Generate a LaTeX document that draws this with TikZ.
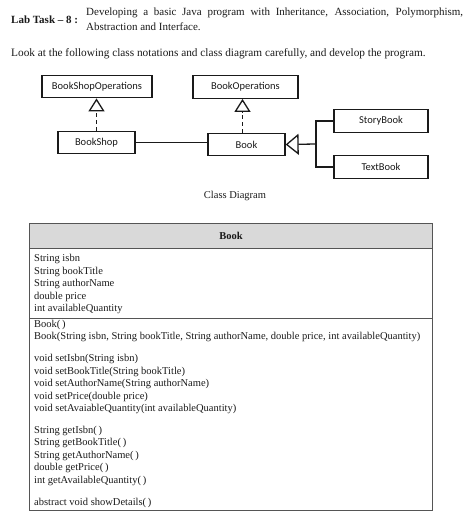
\documentclass[tikz,border=0pt]{standalone}
\usepackage{fontspec}
\setmainfont{Liberation Serif}
\newfontfamily\boxfont{Carlito}
\usetikzlibrary{arrows.meta}
\definecolor{ink}{HTML}{1A1A1A}
\definecolor{headgray}{HTML}{D9D9D9}
\definecolor{tablegray}{HTML}{555555}
\begin{document}
\begin{tikzpicture}[x=1pt,y=-1pt,
  cls/.style={draw=ink, line width=1.3pt, font=\boxfont\fontsize{10.5}{12}\selectfont, text=ink, minimum height=22.5pt, inner sep=0pt},
  impl/.style={draw=ink, line width=1.3pt, dash pattern=on 4pt off 3pt, -{Triangle[open, length=13pt, width=16pt]}},
  gen/.style={draw=ink, line width=1.3pt, -{Triangle[open, length=13pt, width=21pt]}},
  plain/.style={draw=ink, line width=1.3pt},
  body/.style={font=\fontsize{10.5}{12.5}\selectfont, text=ink, align=left, anchor=north west, inner sep=0pt},
  hdtxt/.style={text=ink, inner sep=0pt}]
\useasboundingbox (0,0) rectangle (474,516);

% header
\node[hdtxt, font=\bfseries\fontsize{11}{13}\selectfont, anchor=base west] (lab) at (11,23.5) {Lab Task -- 8 :};
\node[hdtxt, font=\fontsize{11}{15}\selectfont, anchor=north west, align=left] (goal) at (86,8) {\makebox[377pt][s]{Developing a basic Java program with Inheritance, Association, Polymorphism,}\\Abstraction and Interface.};
\node[hdtxt, font=\fontsize{11.3}{13}\selectfont, anchor=base west] (look) at (11,56.5) {Look at the following class notations and class diagram carefully, and develop the program.};

% class diagram
\node[cls, minimum width=110pt] (BSO) at (97,86.5) {BookShopOperations};
\node[cls, minimum width=105pt] (BO) at (245.5,87) {BookOperations};
\node[cls, minimum width=77pt] (BS) at (96.5,142.5) {BookShop};
\node[cls, minimum width=77pt] (B) at (246.5,144.5) {Book};
\node[cls, minimum width=94pt] (SB) at (381,121) {StoryBook};
\node[cls, minimum width=94pt] (TB) at (381,167) {TextBook};
\coordinate (br) at (316,144);

\draw[impl] (BS.north) -- (BS.north |- BSO.south);
\draw[impl] ([xshift=-4pt]B.north) -- ([xshift=-4pt]B.north |- BO.south);
\draw[plain] (BS.east) -- (BS.east -| B.west);
\draw[gen] (br) -- (B.east);
\draw[plain] (SB.west) -| (br) |- (TB.west);

\node[hdtxt, font=\fontsize{10.5}{12}\selectfont] (cap) at (235,196) {Class Diagram};

% class table
\node[draw=tablegray, line width=1pt, minimum width=403pt, minimum height=287pt, anchor=north west, inner sep=0pt] (tbl) at (29,223) {};
\node[draw=tablegray, fill=headgray, line width=1pt, minimum width=403pt, minimum height=25pt, anchor=north west, inner sep=0pt, font=\bfseries\fontsize{10.5}{12}\selectfont, text=ink] (hdr) at (29,223) {Book};
\draw[tablegray, line width=1pt] (tbl.west |- 0,318) -- (tbl.east |- 0,318);

\node[body] (attrs) at (34,254.5) {String isbn\\String bookTitle\\String authorName\\double price\\int availableQuantity};
\node[body] (ctors) at (34,320) {Book(\,)\\Book(String isbn, String bookTitle, String authorName, double price, int availableQuantity)};
\node[body] (setters) at (34,354.5) {void setIsbn(String isbn)\\void setBookTitle(String bookTitle)\\void setAuthorName(String authorName)\\void setPrice(double price)\\void setAvaiableQuantity(int availableQuantity)};
\node[body] (getters) at (34,426) {String getIsbn(\,)\\String getBookTitle(\,)\\String getAuthorName(\,)\\double getPrice(\,)\\int getAvailableQuantity(\,)};
\node[body] (abs) at (34,498) {abstract void showDetails(\,)};
\end{tikzpicture}
\end{document}
